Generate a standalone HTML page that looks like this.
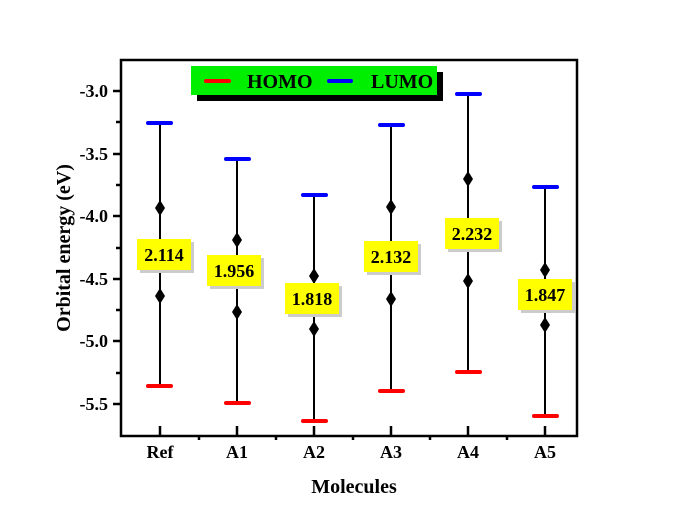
<!DOCTYPE html>
<html><head><style>body{margin:0;background:#fff}</style></head><body>
<svg width="680" height="521" xmlns="http://www.w3.org/2000/svg" font-family="Liberation Serif, serif" font-weight="bold">
<rect width="680" height="521" fill="#fff"/>
<!-- legend -->
<rect x="197" y="72" width="246" height="29" fill="#000"/>
<rect x="191" y="66" width="246" height="29" fill="#00ee00"/>
<line x1="206" y1="81" x2="229" y2="81" stroke="#f00" stroke-width="4" stroke-linecap="round"/>
<text x="247" y="88" font-size="20">HOMO</text>
<line x1="329" y1="81" x2="351" y2="81" stroke="#00f" stroke-width="4" stroke-linecap="round"/>
<text x="371" y="88" font-size="20">LUMO</text>
<!-- frame -->
<rect x="121" y="60" width="456" height="376" fill="none" stroke="#000" stroke-width="2.5"/>
<g stroke="#000" stroke-width="2.5">
<line x1="113" y1="91" x2="121" y2="91"/><line x1="113" y1="154" x2="121" y2="154"/><line x1="113" y1="216" x2="121" y2="216"/><line x1="113" y1="279" x2="121" y2="279"/><line x1="113" y1="341" x2="121" y2="341"/><line x1="113" y1="404" x2="121" y2="404"/>
<line x1="116" y1="122" x2="121" y2="122"/><line x1="116" y1="185" x2="121" y2="185"/><line x1="116" y1="248" x2="121" y2="248"/><line x1="116" y1="310" x2="121" y2="310"/><line x1="116" y1="373" x2="121" y2="373"/>
<line x1="160" y1="426" x2="160" y2="436"/><line x1="237" y1="426" x2="237" y2="436"/><line x1="314" y1="426" x2="314" y2="436"/><line x1="391" y1="426" x2="391" y2="436"/><line x1="468" y1="426" x2="468" y2="436"/><line x1="545" y1="426" x2="545" y2="436"/>
<line x1="199" y1="436" x2="199" y2="440"/><line x1="276" y1="436" x2="276" y2="440"/><line x1="353" y1="436" x2="353" y2="440"/><line x1="430" y1="436" x2="430" y2="440"/><line x1="507" y1="436" x2="507" y2="440"/>
</g>
<g font-size="18" text-anchor="end">
<text x="108" y="97">-3.0</text><text x="108" y="160">-3.5</text><text x="108" y="222">-4.0</text><text x="108" y="285">-4.5</text><text x="108" y="347">-5.0</text><text x="108" y="410">-5.5</text>
</g>
<g font-size="18" text-anchor="middle">
<text x="160" y="458">Ref</text><text x="237" y="458">A1</text><text x="314" y="458">A2</text><text x="391" y="458">A3</text><text x="468" y="458">A4</text><text x="545" y="458">A5</text>
<text x="354" y="493" font-size="20">Molecules</text>
</g>
<text transform="translate(70,248) rotate(-90)" font-size="20" text-anchor="middle">Orbital energy (eV)</text>
<g stroke="#000" stroke-width="2">
<line x1="160" y1="123" x2="160" y2="386"/><line x1="237" y1="159" x2="237" y2="403"/><line x1="314" y1="195" x2="314" y2="421"/><line x1="391" y1="125" x2="391" y2="391"/><line x1="468" y1="94" x2="468" y2="372"/><line x1="545" y1="187" x2="545" y2="416"/>
</g>
<g stroke="#00f" stroke-width="4" stroke-linecap="round">
<line x1="148" y1="123" x2="171" y2="123"/><line x1="226" y1="159" x2="249" y2="159"/><line x1="303" y1="195" x2="326" y2="195"/><line x1="380" y1="125" x2="403" y2="125"/><line x1="457" y1="94" x2="480" y2="94"/><line x1="534" y1="187" x2="557" y2="187"/>
</g>
<g stroke="#f00" stroke-width="4" stroke-linecap="round">
<line x1="148" y1="386" x2="171" y2="386"/><line x1="226" y1="403" x2="249" y2="403"/><line x1="303" y1="421" x2="326" y2="421"/><line x1="380" y1="391" x2="403" y2="391"/><line x1="457" y1="372" x2="480" y2="372"/><line x1="534" y1="416" x2="557" y2="416"/>
</g>
<g fill="#000">
<path d="M160,200 l5,8 l-5,8 l-5,-8z"/><path d="M160,288 l5,8 l-5,8 l-5,-8z"/>
<path d="M237,232 l5,8 l-5,8 l-5,-8z"/><path d="M237,304 l5,8 l-5,8 l-5,-8z"/>
<path d="M314,268 l5,8 l-5,8 l-5,-8z"/><path d="M314,321 l5,8 l-5,8 l-5,-8z"/>
<path d="M391,199 l5,8 l-5,8 l-5,-8z"/><path d="M391,291 l5,8 l-5,8 l-5,-8z"/>
<path d="M468,171 l5,8 l-5,8 l-5,-8z"/><path d="M468,273 l5,8 l-5,8 l-5,-8z"/>
<path d="M545,262 l5,8 l-5,8 l-5,-8z"/><path d="M545,317 l5,8 l-5,8 l-5,-8z"/>
</g>
<g font-size="18" text-anchor="middle">
<g transform="translate(166,257)"><rect x="-26" y="-15" width="54" height="31" fill="#ccc"/><rect x="-29" y="-18" width="54" height="31" fill="#ffff00"/><text x="-2" y="4">2.114</text></g>
<g transform="translate(236,273)"><rect x="-26" y="-15" width="54" height="31" fill="#ccc"/><rect x="-29" y="-18" width="54" height="31" fill="#ffff00"/><text x="-2" y="4">1.956</text></g>
<g transform="translate(314,301)"><rect x="-26" y="-15" width="54" height="31" fill="#ccc"/><rect x="-29" y="-18" width="54" height="31" fill="#ffff00"/><text x="-2" y="4">1.818</text></g>
<g transform="translate(393,259)"><rect x="-26" y="-15" width="54" height="31" fill="#ccc"/><rect x="-29" y="-18" width="54" height="31" fill="#ffff00"/><text x="-2" y="4">2.132</text></g>
<g transform="translate(474,236)"><rect x="-26" y="-15" width="54" height="31" fill="#ccc"/><rect x="-29" y="-18" width="54" height="31" fill="#ffff00"/><text x="-2" y="4">2.232</text></g>
<g transform="translate(547,297)"><rect x="-26" y="-15" width="54" height="31" fill="#ccc"/><rect x="-29" y="-18" width="54" height="31" fill="#ffff00"/><text x="-2" y="4">1.847</text></g>
</g>
</svg>
</body></html>
